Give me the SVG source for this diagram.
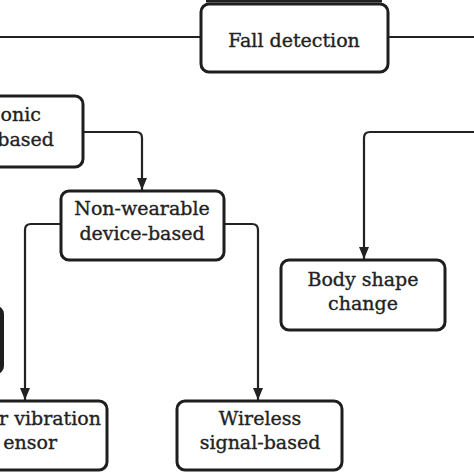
<svg xmlns="http://www.w3.org/2000/svg" width="474" height="474" viewBox="0 0 474 474">
<defs>
<marker id="ah" markerWidth="12" markerHeight="10" refX="12" refY="5" orient="auto" markerUnits="userSpaceOnUse" viewBox="0 0 12 10">
<path d="M0,0 L12,5 L0,10 Z" fill="#222"/>
</marker>
<style>
.box{fill:#fff;stroke:#1e1e1e;stroke-width:3}
.lbl{font-family:"DejaVu Serif","Liberation Serif",serif;font-size:19px;fill:#222;stroke:#222;stroke-width:0.35;text-anchor:middle}
.cut{font-family:"DejaVu Serif","Liberation Serif",serif;font-size:19px;fill:#222;stroke:#222;stroke-width:0.35;text-anchor:end}
.con{fill:none;stroke:#222;stroke-width:2.2}
</style>
</defs>
<rect width="474" height="474" fill="#fff"/>
<g id="connectors">
<path class="con" d="M0,37 H200"/>
<path class="con" d="M388,37 H474"/>
<path class="con" d="M83,132 H136 Q142,132 142,138 V190" marker-end="url(#ah)"/>
<path class="con" d="M60,224 H31 Q25,224 25,230 V400" marker-end="url(#ah)"/>
<path class="con" d="M224,224 H252 Q258,224 258,230 V400" marker-end="url(#ah)"/>
<path class="con" d="M474,132 H370 Q364,132 364,138 V259" marker-end="url(#ah)"/>
</g>
<path d="M206,1 H382" stroke="#222" stroke-width="3"/>
<g id="fall-detection">
<rect class="box" x="201" y="4" width="187" height="68" rx="8"/>
<text class="lbl" x="294" y="47">Fall detection</text>
</g>
<g id="electronic-device-based">
<rect class="box" x="-60" y="96" width="143" height="71" rx="8"/>
<text class="cut" x="41" y="121">onic</text>
<text class="cut" x="54" y="146">based</text>
</g>
<g id="non-wearable">
<rect class="box" x="61" y="191" width="163" height="69" rx="8"/>
<text class="lbl" x="142" y="215">Non-wearable</text>
<text class="lbl" x="142" y="240">device-based</text>
</g>
<g id="body-shape-change">
<rect class="box" x="281" y="260" width="164" height="70" rx="8"/>
<text class="lbl" x="363" y="286">Body shape</text>
<text class="lbl" x="363" y="310">change</text>
</g>
<g id="left-partial">
<rect class="box" x="-100" y="308" width="102" height="64" rx="6" style="stroke-width:4"/>
</g>
<g id="floor-vibration-sensor">
<rect class="box" x="-60" y="401" width="167" height="69" rx="8"/>
<text class="cut" x="101" y="425">r vibration</text>
<text class="cut" x="57" y="449">ensor</text>
</g>
<g id="wireless-signal-based">
<rect class="box" x="177" y="401" width="165" height="69" rx="8"/>
<text class="lbl" x="260" y="425">Wireless</text>
<text class="lbl" x="260" y="449">signal-based</text>
</g>
</svg>
